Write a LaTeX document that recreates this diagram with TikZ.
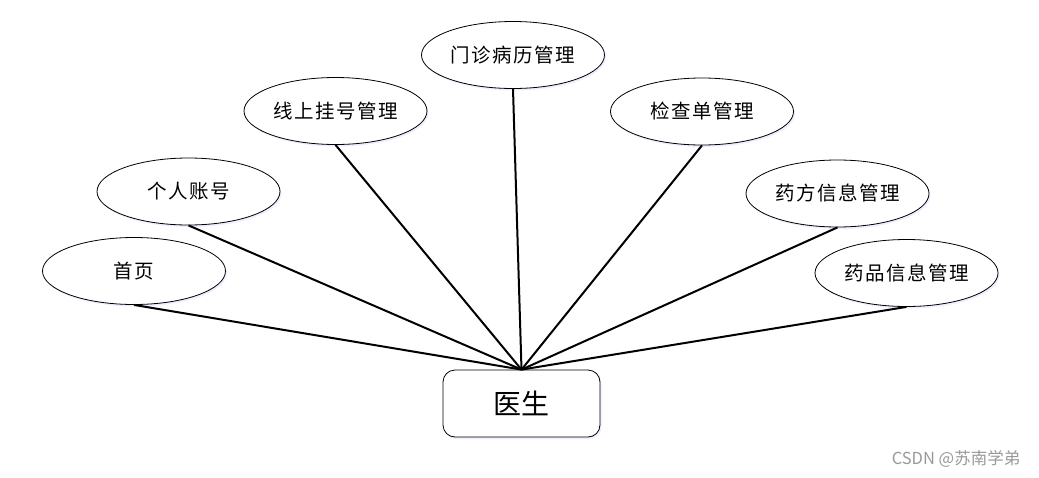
\documentclass[tikz,border=0pt]{standalone}
\usepackage{fontspec}
\newfontfamily\cjk{Noto Sans CJK SC}
\newfontfamily\cjksp[LetterSpace=8]{Noto Sans CJK SC}
\usetikzlibrary{shapes.geometric,shadows}
\begin{document}
\begin{tikzpicture}[x=1pt,y=-1pt,
  func/.style={ellipse,draw=black,line width=0.8pt,fill=white,minimum width=183pt,minimum height=67pt,inner sep=0pt,
    font=\cjksp\fontsize{19.5}{22}\selectfont,
    drop shadow={shadow xshift=1.5pt,shadow yshift=-2pt,opacity=0.25,fill=blue!25}},
  rootbox/.style={rectangle,rounded corners=12pt,draw=black,line width=0.8pt,fill=white,minimum width=157pt,minimum height=67pt,
    font=\cjk\fontsize{28}{32}\selectfont,
    drop shadow={shadow xshift=1.5pt,shadow yshift=-2pt,opacity=0.25,fill=blue!25}},
  link/.style={line width=2pt,black}]
\useasboundingbox (0,0) rectangle (1039,477);
\fill[white] (0,0) rectangle (1039,477);
\node[rootbox] (doc) at (521.5,403.5) {医生};
\node[func] (home) at (134,271) {首页};
\node[func] (acct) at (188.5,191.5) {个人账号};
\node[func] (reg) at (335.5,111) {线上挂号管理};
\node[func] (rec) at (513,55) {门诊病历管理};
\node[func] (chk) at (702,111.5) {检查单管理};
\node[func] (pres) at (837.5,193.5) {药方信息管理};
\node[func] (drug) at (906.5,273) {药品信息管理};
\foreach \n in {home,acct,reg,rec,chk,pres,drug}
  \draw[link] (\n.south) -- (doc.north);
\node[text=black!40,font=\cjk\fontsize{16.5}{19}\selectfont,anchor=center] (wm) at (956,459) {CSDN @苏南学弟};
\end{tikzpicture}
\end{document}
